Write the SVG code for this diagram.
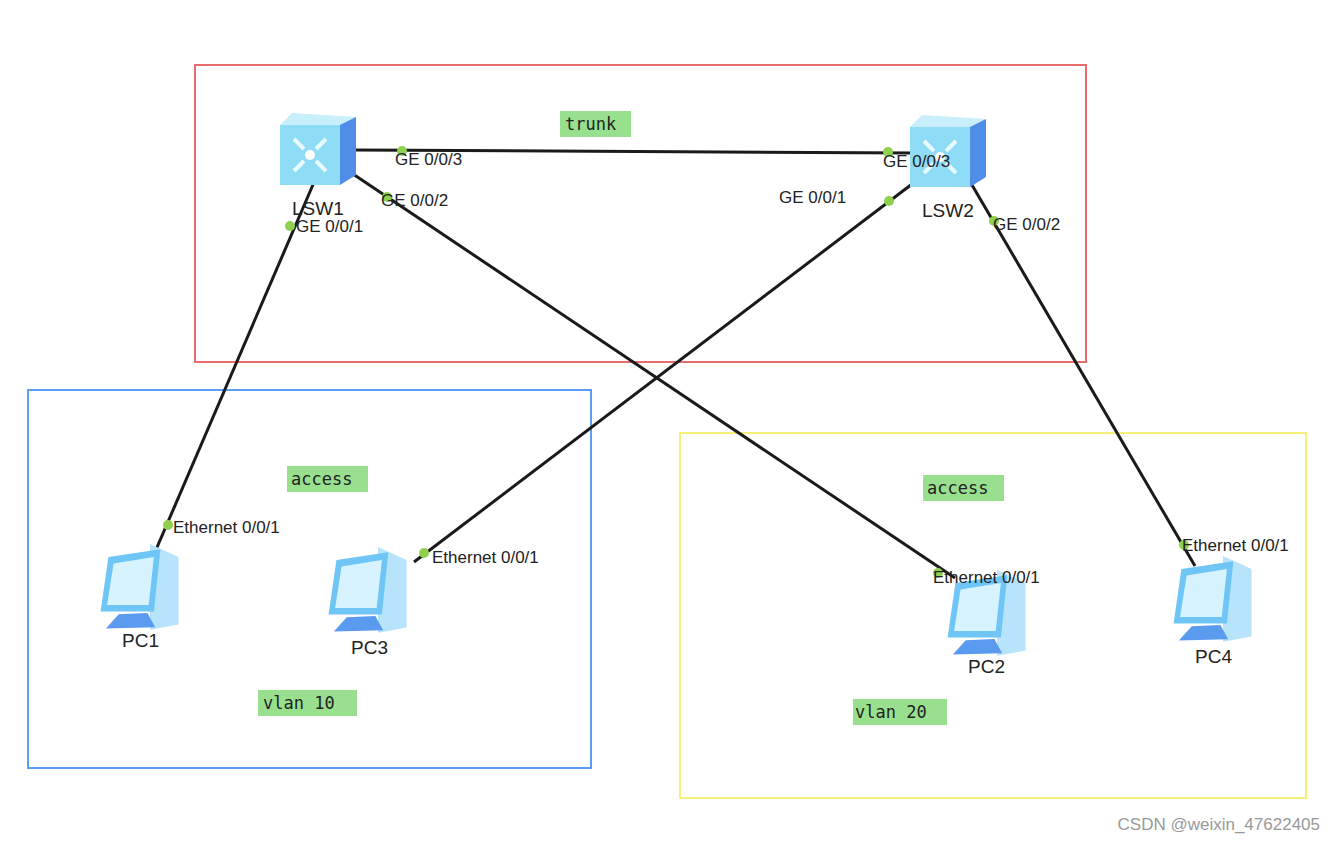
<svg xmlns="http://www.w3.org/2000/svg" xmlns:xlink="http://www.w3.org/1999/xlink" width="1336" height="842" viewBox="0 0 1336 842">
<style>
.lbl{font-family:"Liberation Sans",Arial,sans-serif;font-size:19px;fill:#222}
.port{font-family:"Liberation Sans",Arial,sans-serif;font-size:17px;fill:#222}
.tag{font-family:"DejaVu Sans Mono","Liberation Mono",monospace;font-size:17px;fill:#222}
.tagbg{fill:#98e08e}
.ln{stroke:#1a1a1a;stroke-width:3;fill:none}
.dot{fill:#8fd14f}
</style>
<defs>
<g id="sw">
<path d="M0,12 L12,0 L76,4 L68,14 Z" fill="#c9eefc"/>
<rect x="0" y="12" width="60" height="60" fill="#8fdcf6"/>
<path d="M60,12 L76,4 L76,62 L60,72 Z" fill="#4f8de8"/>
<g stroke="#e8fbff" stroke-width="4" fill="none">
<path d="M14,26 L24,36 M46,26 L36,36 M14,58 L24,48 M46,58 L36,48"/>
</g>
<circle cx="30" cy="42" r="5" fill="#ffffff"/>
</g>
<g id="pc">
<g transform="scale(1.3)">
<path d="M40,0 L62,10 L62,62 L40,66 Z" fill="#b8e4fb"/>
<path d="M8,10 L48,4 L43,52 L2,52 Z" fill="#6fc6f6"/>
<path d="M12,15 L43,10 L39,47 L7,47 Z" fill="#d6f3ff"/>
<path d="M16,54 L38,53 L44,64 L6,65 Z" fill="#5b9bef"/>
</g>
</g>
</defs>
<rect width="1336" height="842" fill="#fff"/>
<g id="zones" fill="none" stroke-width="2">
<rect x="195" y="65" width="891" height="297" stroke="#ea6b6b"/>
<rect x="28" y="390" width="563" height="378" stroke="#5b9cf5"/>
<rect x="680" y="433" width="626" height="365" stroke="#f5f07a"/>
</g>
<g id="connectors">
<line class="ln" x1="355" y1="150" x2="912" y2="153"/>
<line class="ln" x1="315" y1="180" x2="155" y2="552"/>
<line class="ln" x1="350" y1="172" x2="955" y2="578"/>
<line class="ln" x1="920" y1="178" x2="414" y2="562"/>
<line class="ln" x1="972" y1="185" x2="1195" y2="566"/>
<circle class="dot" cx="402" cy="151" r="5"/>
<circle class="dot" cx="888" cy="152" r="5"/>
<circle class="dot" cx="387" cy="197" r="5"/>
<circle class="dot" cx="889" cy="201" r="5"/>
<circle class="dot" cx="290" cy="226" r="5"/>
<circle class="dot" cx="994" cy="221" r="5"/>
<circle class="dot" cx="168" cy="525" r="5"/>
<circle class="dot" cx="424" cy="553" r="5"/>
<circle class="dot" cx="1184" cy="545" r="5"/>
<circle class="dot" cx="938" cy="573" r="5"/>
</g>
<g id="LSW1"><use xlink:href="#sw" x="280" y="113"/><text class="lbl" x="292" y="215">LSW1</text></g>
<g id="LSW2"><use xlink:href="#sw" x="910" y="115"/><text class="lbl" x="922" y="217">LSW2</text></g>
<g id="PC1"><use xlink:href="#pc" x="98" y="544"/><text class="lbl" x="122" y="647">PC1</text></g>
<g id="PC3"><use xlink:href="#pc" x="326" y="547"/><text class="lbl" x="351" y="654">PC3</text></g>
<g id="PC2"><use xlink:href="#pc" x="945" y="570"/><text class="lbl" x="968" y="673">PC2</text></g>
<g id="PC4"><use xlink:href="#pc" x="1171" y="556"/><text class="lbl" x="1195" y="663">PC4</text></g>
<g id="ports">
<text class="port" x="395" y="165">GE 0/0/3</text>
<text class="port" x="883" y="167">GE 0/0/3</text>
<text class="port" x="381" y="206">GE 0/0/2</text>
<text class="port" x="779" y="203">GE 0/0/1</text>
<text class="port" x="296" y="232">GE 0/0/1</text>
<text class="port" x="993" y="230">GE 0/0/2</text>
<text class="port" x="173" y="533">Ethernet 0/0/1</text>
<text class="port" x="432" y="563">Ethernet 0/0/1</text>
<text class="port" x="1182" y="551">Ethernet 0/0/1</text>
<text class="port" x="933" y="583">Ethernet 0/0/1</text>
</g>
<g id="tags">
<rect class="tagbg" x="560" y="111" width="71" height="26"/><text class="tag" x="565" y="130">trunk</text>
<rect class="tagbg" x="287" y="466" width="81" height="26"/><text class="tag" x="291" y="485">access</text>
<rect class="tagbg" x="923" y="475" width="81" height="26"/><text class="tag" x="927" y="494">access</text>
<rect class="tagbg" x="258" y="690" width="99" height="26"/><text class="tag" x="263" y="709">vlan 10</text>
<rect class="tagbg" x="853" y="699" width="94" height="26"/><text class="tag" x="855" y="718">vlan 20</text>
</g>
<text x="1320" y="830" text-anchor="end" font-family="'Liberation Sans',Arial,sans-serif" font-size="17" fill="#999">CSDN @weixin_47622405</text>
</svg>
